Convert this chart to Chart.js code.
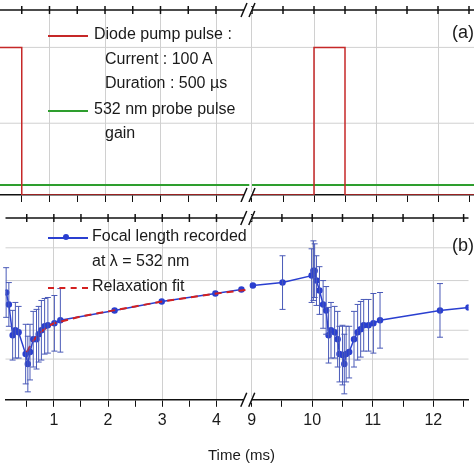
<!DOCTYPE html>
<html><head><meta charset="utf-8">
<script src="https://cdn.jsdelivr.net/npm/chart.js@4"></script>
<style>
body{margin:0;background:#fff;width:474px;height:474px;overflow:hidden;position:relative;font-family:"Liberation Sans",Arial,sans-serif;color:#1a1a1a}
.box{position:absolute;left:0;width:474px}
.t{position:absolute;font-size:16px;white-space:nowrap}
.ln{position:absolute;height:0;width:40px}
</style></head><body>
<div class="box" style="top:0;height:202px"><canvas id="top" width="474" height="202"></canvas></div>
<div class="box" style="top:208px;height:266px"><canvas id="bot" width="474" height="266"></canvas></div>

<div class="ln" style="left:48px;top:35px;border-top:2px solid #c62828"></div>
<div class="t" style="left:94px;top:25px">Diode pump pulse :</div>
<div class="t" style="left:105px;top:50px">Current : 100 A</div>
<div class="t" style="left:105px;top:74px">Duration : 500 µs</div>
<div class="ln" style="left:48px;top:110px;border-top:2px solid #2e9e2e"></div>
<div class="t" style="left:94px;top:100px">532 nm probe pulse</div>
<div class="t" style="left:105px;top:124px">gain</div>
<div class="t" style="left:452px;top:22px;font-size:18px">(a)</div>

<div class="ln" style="left:48px;top:237px;border-top:2px solid #2a3fd0"></div>
<div style="position:absolute;left:63px;top:234px;width:6px;height:6px;border-radius:3px;background:#2a3fd0"></div>
<div class="t" style="left:92px;top:227px">Focal length recorded</div>
<div class="t" style="left:92px;top:252px">at λ = 532 nm</div>
<div class="ln" style="left:48px;top:287px;border-top:2px dashed #d32020"></div>
<div class="t" style="left:92px;top:277px">Relaxation fit</div>
<div class="t" style="left:452px;top:235px;font-size:18px">(b)</div>
<div class="t" style="left:208px;top:446px;font-size:15px">Time (ms)</div>

<script>
// time (ms) values
const pumpT = [0, 0.5, 0.5, 4.6, 9.0, 10.0, 10.0, 10.5, 10.5, 12.6];
const pumpV = [146, 146, 0, 0, 0, 0, 146, 146, 0, 0];
const probeT = [0, 4.6, 9.0, 12.6];
const probeV = [10, 10, 10, 10];

const focT = [0.12, 0.17, 0.24, 0.29, 0.35, 0.48, 0.52, 0.56, 0.62, 0.68, 0.72, 0.77, 0.83, 0.89, 1.01, 1.12, 2.12, 2.99, 3.98, 4.46,
  9.02, 9.51, 9.99, 10.02, 10.04, 10.07, 10.12, 10.18, 10.23, 10.27, 10.31, 10.37, 10.42, 10.45, 10.50, 10.53, 10.56, 10.61, 10.69, 10.75, 10.80, 10.85, 10.93, 11.01, 11.12, 12.11, 12.58];
const focV = [108, 96, 65, 70, 68, 46, 36, 48, 61, 61, 66, 70, 74, 75, 77, 80, 90, 99, 107, 111,
  115, 118, 125, 130, 130, 120, 110, 96, 90, 65, 70, 68, 61, 46, 45, 36, 46, 48, 61, 68, 71, 75, 75, 77, 80, 90, 93];
const focErr = [25, 22, 25, 28, 26, 30, 28, 28, 28, 30, 28, 30, 28, 28, 28, 32, 0, 0, 0, 0,
  0, 27, 27, 30, 27, 25, 24, 24, 24, 28, 28, 26, 28, 28, 30, 30, 28, 26, 28, 28, 28, 26, 26, 30, 28, 27, 0];
const fitT = [0.5, 0.6, 0.7, 0.8, 0.9, 1.0, 1.5, 2.0, 2.5, 3.0, 3.5, 4.0, 4.6];
const fitV = [48, 58, 65, 70, 74, 77, 84, 89, 94, 99, 103, 107, 111];

const tickT = [0.5, 1, 1.5, 2, 2.5, 3, 3.5, 4, 9, 9.5, 10, 10.5, 11, 11.5, 12, 12.5];
const labelT = [1, 2, 3, 4, 9, 10, 11, 12];

// broken time axis -> one continuous display axis
const u = t => t <= 6 ? -6 + 55.5 * t : 252 + 62 * (t - 9);
const gap = (ts, vs) => {
  const out = [];
  ts.forEach((t, i) => { if (i > 0 && ts[i - 1] < 6 && t > 6) out.push({x: 248, y: null}); out.push({x: u(t), y: vs[i]}); });
  return out;
};

function xScale(showLabels) {
  return {
    type: 'linear', min: 0, max: 474, offset: false,
    afterBuildTicks: s => { s.ticks = tickT.map(t => ({value: u(t), t})); },
    ticks: {
      display: showLabels, autoSkip: false, maxRotation: 0, color: '#1a1a1a', font: {size: 16, family: 'Liberation Sans'}, padding: 4,
      callback: function (v, i, ticks) { const t = ticks[i].t; return labelT.includes(t) ? String(t) : ''; }
    },
    grid: {
      color: c => (c.tick && labelT.includes(c.tick.t)) ? '#d0d0d0' : 'rgba(0,0,0,0)',
      tickColor: '#111', tickLength: 7, drawTicks: true
    },
    border: {color: '#111', width: 1.5}
  };
}

const frame = {
  id: 'frame',
  afterDraw(c) {
    const {ctx, chartArea: a} = c;
    ctx.save();
    ctx.strokeStyle = '#111'; ctx.lineWidth = 1.5;
    ctx.beginPath(); ctx.moveTo(a.left, a.top); ctx.lineTo(a.right, a.top); ctx.stroke();
    const xs = c.scales.x;
    tickT.forEach(t => { const p = xs.getPixelForValue(u(t)); ctx.beginPath(); ctx.moveTo(p, a.top - 4); ctx.lineTo(p, a.top + 4); ctx.stroke(); });
    const bx = xs.getPixelForValue(248);
    [a.top, a.bottom].forEach(y => {
      ctx.fillStyle = '#fff'; ctx.fillRect(bx - 4, y - 3, 8, 6);
      ctx.beginPath();
      ctx.moveTo(bx - 7, y + 7); ctx.lineTo(bx - 1, y - 7);
      ctx.moveTo(bx + 1, y + 7); ctx.lineTo(bx + 7, y - 7);
      ctx.stroke();
    });
    ctx.restore();
  }
};

const errBars = {
  id: 'errBars',
  afterDatasetsDraw(c) {
    const {ctx} = c, xs = c.scales.x, ys = c.scales.y;
    ctx.save(); ctx.strokeStyle = '#4a5ab8'; ctx.lineWidth = 1;
    focT.forEach((t, i) => {
      const e = focErr[i]; if (!e) return;
      const x = xs.getPixelForValue(u(t));
      const y1 = ys.getPixelForValue(focV[i] - e), y2 = ys.getPixelForValue(focV[i] + e);
      ctx.beginPath(); ctx.moveTo(x, y1); ctx.lineTo(x, y2);
      ctx.moveTo(x - 3, y1); ctx.lineTo(x + 3, y1); ctx.moveTo(x - 3, y2); ctx.lineTo(x + 3, y2); ctx.stroke();
    });
    ctx.restore();
  }
};

const hgrid = vals => ({
  id: 'hgrid', beforeDatasetsDraw(c) {
    const {ctx, chartArea: a} = c; ctx.save(); ctx.strokeStyle = '#d0d0d0'; ctx.lineWidth = 1;
    vals.forEach(v => { const y = c.scales.y.getPixelForValue(v); ctx.beginPath(); ctx.moveTo(a.left, y); ctx.lineTo(a.right, y); ctx.stroke(); });
    ctx.restore();
  }
});

const common = {
  responsive: false, animation: false,
  layout: {padding: {top: 10, left: 0, right: 0}},
  plugins: {legend: {display: false}, tooltip: {enabled: false}}
};

new Chart(document.getElementById('top'), {
  type: 'line',
  data: {datasets: [
    {data: gap(pumpT, pumpV), borderColor: '#c62828', borderWidth: 1.5, pointRadius: 0, spanGaps: false},
    {data: gap(probeT, probeV), borderColor: '#2e9e2e', borderWidth: 2, pointRadius: 0, spanGaps: false}
  ]},
  options: Object.assign({}, common, {
    scales: {x: xScale(false), y: {display: false, min: 0, max: 183}}
  }),
  plugins: [frame, hgrid([146, 71])]
});

new Chart(document.getElementById('bot'), {
  type: 'line',
  data: {datasets: [
    {data: gap(fitT, fitV), borderColor: '#d32020', borderWidth: 2, borderDash: [7, 5], pointRadius: 0, order: 0},
    {data: gap(focT, focV), borderColor: '#2a3fd0', backgroundColor: '#2a3fd0', borderWidth: 1.5, pointRadius: 2.5, spanGaps: false, order: 1}
  ]},
  options: Object.assign({}, common, {
    layout: {padding: {top: 10, bottom: 40}},
    scales: {x: xScale(true), y: {display: false, min: 0, max: 183}}
  }),
  plugins: [frame, errBars, hgrid([153, 120, 70, 41])]
});
</script>
</body></html>
